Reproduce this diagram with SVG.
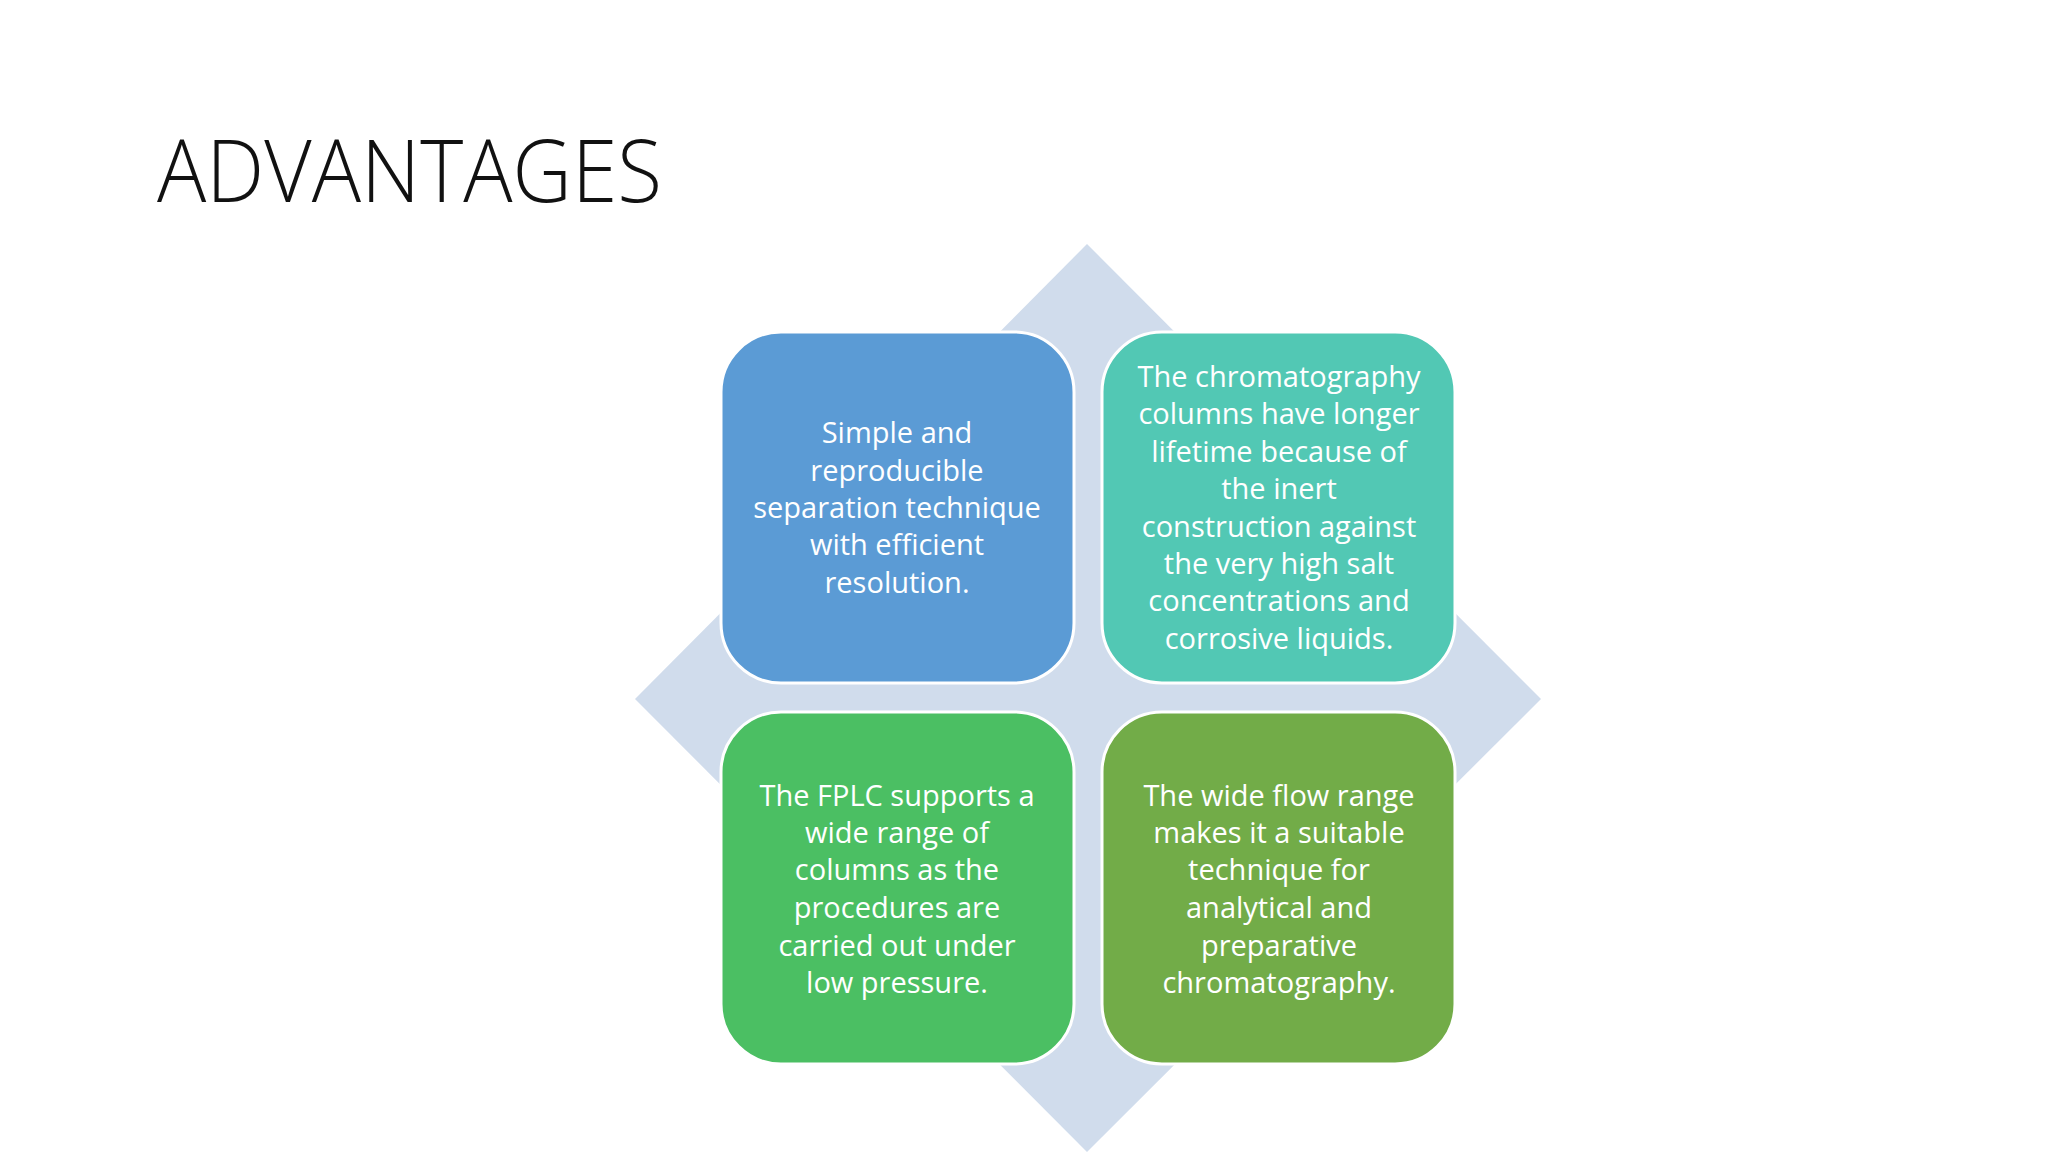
<svg xmlns="http://www.w3.org/2000/svg" width="2048" height="1152" viewBox="0 0 2048 1152">
<style>
.b{stroke:#fff;stroke-width:3}
.t{font-family:"Open Sans","Liberation Sans",sans-serif;font-size:29px;fill:#fff;text-anchor:middle}
</style>
<rect width="2048" height="1152" fill="#fff"/>
<text x="157" y="202" font-family="Open Sans, Liberation Sans, sans-serif" font-size="86" font-weight="300" fill="#111" textLength="505" lengthAdjust="spacingAndGlyphs">ADVANTAGES</text>
<polygon points="1087,244 1541,699 1087,1152 635,699" fill="#d0dcec"/>
<g id="n1"><rect class="b" x="721" y="332" width="353" height="351" rx="60" fill="#5b9bd5"/>
<text class="t"><tspan x="897" y="443">Simple and</tspan><tspan x="897" y="481">reproducible</tspan><tspan x="897" y="518">separation technique</tspan><tspan x="897" y="555">with efficient</tspan><tspan x="897" y="593">resolution.</tspan></text></g>
<g id="n2"><rect class="b" x="1102" y="332" width="353" height="351" rx="60" fill="#52c8b4"/>
<text class="t"><tspan x="1279" y="387">The chromatography</tspan><tspan x="1279" y="424">columns have longer</tspan><tspan x="1279" y="462">lifetime because of</tspan><tspan x="1279" y="499">the inert</tspan><tspan x="1279" y="537">construction against</tspan><tspan x="1279" y="574">the very high salt</tspan><tspan x="1279" y="611">concentrations and</tspan><tspan x="1279" y="649">corrosive liquids.</tspan></text></g>
<g id="n3"><rect class="b" x="721" y="712" width="353" height="352" rx="60" fill="#4bbf63"/>
<text class="t"><tspan x="897" y="806">The FPLC supports a</tspan><tspan x="897" y="843">wide range of</tspan><tspan x="897" y="880">columns as the</tspan><tspan x="897" y="918">procedures are</tspan><tspan x="897" y="956">carried out under</tspan><tspan x="897" y="993">low pressure.</tspan></text></g>
<g id="n4"><rect class="b" x="1102" y="712" width="353" height="352" rx="60" fill="#72ac48"/>
<text class="t"><tspan x="1279" y="806">The wide flow range</tspan><tspan x="1279" y="843">makes it a suitable</tspan><tspan x="1279" y="880">technique for</tspan><tspan x="1279" y="918">analytical and</tspan><tspan x="1279" y="956">preparative</tspan><tspan x="1279" y="993">chromatography.</tspan></text></g>
<g id="connectors"/>
</svg>
